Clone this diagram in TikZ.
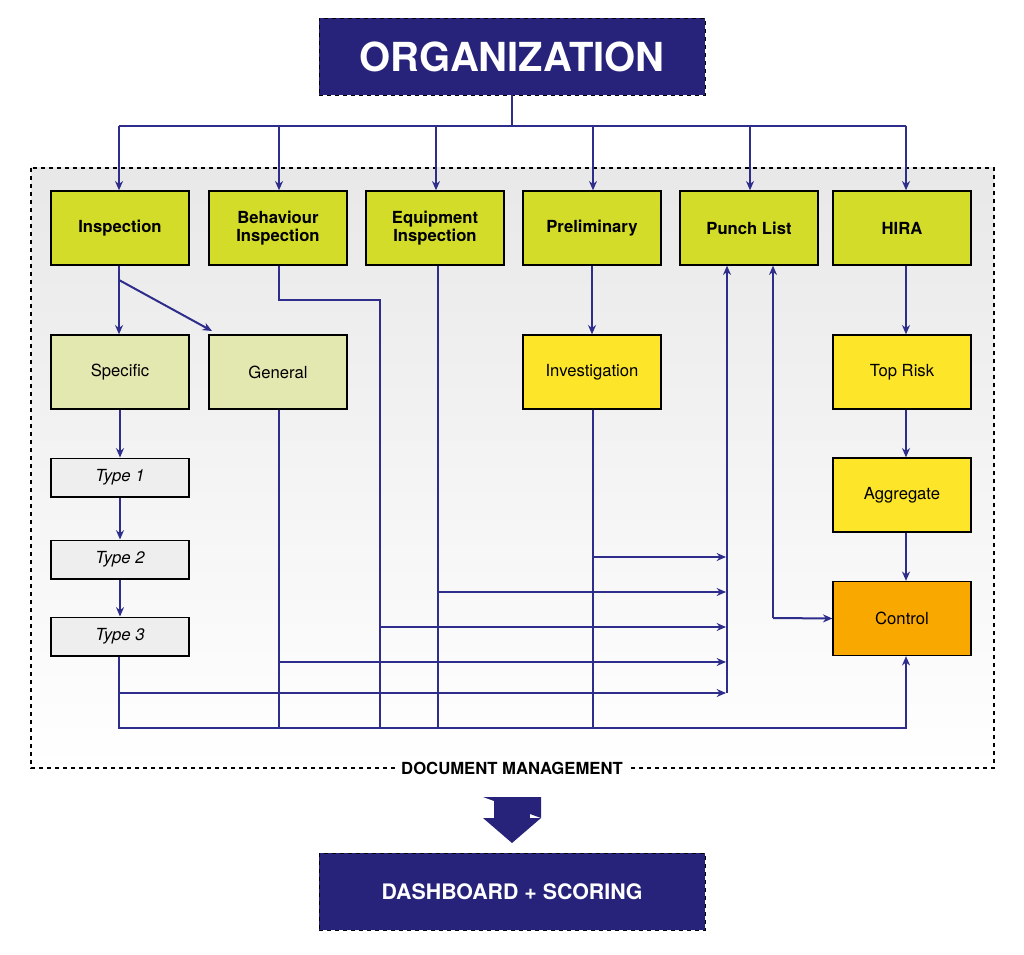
\documentclass[tikz,border=0pt]{standalone}
\usepackage{fontspec}
\setmainfont{TeX Gyre Heros}
\usetikzlibrary{arrows.meta}
\definecolor{navy}{HTML}{27237A}
\definecolor{ln}{HTML}{2E2D8C}
\definecolor{yg}{HTML}{D4DC2A}
\definecolor{pale}{HTML}{E3E8B0}
\definecolor{yel}{HTML}{FDE629}
\definecolor{org}{HTML}{F9A800}
\definecolor{gr}{HTML}{EEEEEE}
\begin{document}
\begin{tikzpicture}[x=0.75pt,y=-0.75pt,
 box/.style={draw=black,line width=1pt,minimum width=103.5pt,minimum height=55.5pt,align=center,inner sep=0pt,font=\fontsize{12.5}{13}\selectfont},
 top/.style={box,fill=yg,font=\fontsize{12.5}{13}\selectfont\bfseries},
 typ/.style={box,fill=gr,minimum height=29pt,font=\fontsize{12.5}{13}\selectfont\itshape},
 big/.style={draw=black,dashed,fill=navy,text=white,minimum width=289.5pt,minimum height=57.5pt,inner sep=0pt,font=\bfseries},
 ar/.style={draw=ln,line width=1.5pt,-{Stealth[length=7pt,width=6pt]}},
 l/.style={draw=ln,line width=1.5pt}]
\useasboundingbox (0,0) rectangle (1024,955);
\shade[top color=gray!18,bottom color=white] (31,168) rectangle (994,768);
\draw[dashed,line width=0.8pt] (31,168) rectangle (994,768);
\node[big,font=\fontsize{30}{32}\selectfont\bfseries] (orgn) at (512,56.5) {ORGANIZATION};
\node[big,font=\fontsize{16}{18}\selectfont\bfseries] (dash) at (512,891.5) {DASHBOARD + SCORING};
\node[fill=white,inner sep=4pt,font=\fontsize{12.5}{13}\selectfont\bfseries] (dm) at (512,768) {DOCUMENT MANAGEMENT};
\fill[navy] (483,797) -- (541,797) -- (541,818) -- (541,818) -- (541,818) -- (541,818) -- cycle;
\node[fill=navy,inner sep=0pt,minimum width=30pt,minimum height=0pt] (barrow) at (512,797) {};
\fill[navy] (494,797) rectangle (530,818);
\fill[navy] (483,818) -- (541,818) -- (512,843) -- cycle;
% top row
\node[top] (insp) at (120,228) {Inspection};
\node[top] (beh) at (278,228) {Behaviour\\Inspection};
\node[top] (eq) at (435,228) {Equipment\\Inspection};
\node[top] (pre) at (592,228) {Preliminary};
\node[top] (pun) at (749,228) {Punch List};
\node[top] (hira) at (902,228) {HIRA};
\node[box,fill=pale] (spec) at (120,372) {Specific};
\node[box,fill=pale] (gen) at (278,372) {General};
\node[box,fill=yel] (inv) at (592,372) {Investigation};
\node[box,fill=yel] (topr) at (902,372) {Top Risk};
\node[box,fill=yel] (agg) at (902,495) {Aggregate};
\node[box,fill=org] (ctl) at (902,618.5) {Control};
\node[typ] (t1) at (120,477.5) {Type 1};
\node[typ] (t2) at (120,559.5) {Type 2};
\node[typ] (t3) at (120,636.5) {Type 3};
% bus
\draw[l] (orgn.south) -- (512,126);
\draw[l] (119,126) -- (906,126);
\foreach \n/\x in {insp/119,beh/279,eq/436,pre/593,pun/750,hira/906}
  \draw[ar] (\x,126) -- (\n.north -| \x,0);
\coordinate (bl) at (119,280);
\draw[ar] (insp.south -| 119,0) -- (spec.north -| 119,0);
\draw[ar] (bl) -- (212,331);
\draw[ar] (spec) -- (t1);
\draw[ar] (t1) -- (t2);
\draw[ar] (t2) -- (t3);
\draw[ar] (pre) -- (inv);
\draw[ar] (hira.south -| 906,0) -- (topr.north -| 906,0);
\draw[ar] (topr.south -| 906,0) -- (agg.north -| 906,0);
\draw[ar] (agg.south -| 906,0) -- (ctl.north -| 906,0);
% collectors
\draw[l] (t3.south -| 119,0) -- (119,728) -- (906,728);
\draw[ar] (906,729) -- (ctl.south -| 906,0);
\draw[l] (beh.south -| 279,0) -- (279,300) -- (380,300) -- (380,728);
\draw[l] (gen.south -| 279,0) -- (279,728);
\draw[l] (eq.south -| 438,0) -- (438,728);
\draw[l] (inv.south -| 593,0) -- (593,728);
\draw[ar] (119,693) -- (726,693);
\draw[ar] (279,662) -- (726,662);
\draw[ar] (380,627) -- (726,627);
\draw[ar] (438,592) -- (726,592);
\draw[ar] (593,557) -- (726,557);
\draw[ar] (727,693) -- (pun.south -| 727,0);
\draw[ar] (773,618) -- (pun.south -| 773,0);
\draw[ar] (773,618) -- (ctl.west);
\end{tikzpicture}
\end{document}
